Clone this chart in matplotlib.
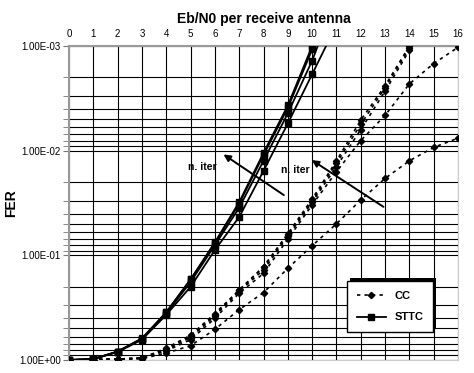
import numpy as np
import matplotlib
matplotlib.use("Agg")
import matplotlib.pyplot as plt
from matplotlib.patches import Rectangle

plt.rcParams["font.family"] = ["Liberation Sans", "DejaVu Sans"]

# Eb/N0 (dB)
snr = np.arange(0, 17)

# STTC, 4 iterations (x = 0..11)
sttc_x = np.arange(0, 12)
sttc = [
    [1.0, 0.98, 0.84, 0.64, 0.37, 0.20, 0.089, 0.043, 0.0156, 0.0055, 0.00186, 0.00063],
    [1.0, 0.98, 0.83, 0.63, 0.36, 0.18, 0.080, 0.035, 0.0125, 0.0044, 0.00138, 0.00034],
    [1.0, 0.98, 0.83, 0.63, 0.35, 0.17, 0.077, 0.032, 0.0110, 0.0039, 0.00108, 0.00028],
    [1.0, 0.98, 0.83, 0.62, 0.35, 0.17, 0.075, 0.031, 0.0105, 0.0037, 0.00100, 0.00026],
]

# CC, 5 iterations
cc_long_x = np.arange(0, 17)
cc_long = [
    [1.0, 0.99, 0.99, 0.97, 0.86, 0.73, 0.51, 0.33, 0.227, 0.133, 0.081, 0.050, 0.0296, 0.0184, 0.0125, 0.0093, 0.0076],
    [1.0, 0.99, 0.98, 0.96, 0.82, 0.64, 0.40, 0.23, 0.149, 0.070, 0.033, 0.0159, 0.0080, 0.0046, 0.0023, 0.00147, 0.00103],
]
cc_short_x = np.arange(0, 15)
cc_short = [
    [1.0, 0.99, 0.98, 0.96, 0.80, 0.61, 0.38, 0.22, 0.138, 0.066, 0.031, 0.0142, 0.0063, 0.0027, 0.0011],
    [1.0, 0.99, 0.98, 0.96, 0.78, 0.59, 0.37, 0.215, 0.130, 0.064, 0.030, 0.0132, 0.0056, 0.0025, 0.00105],
    [1.0, 0.99, 0.98, 0.96, 0.77, 0.58, 0.36, 0.214, 0.128, 0.062, 0.029, 0.0125, 0.0051, 0.0024, 0.0010],
]

ytick_vals = [1e-3, 1e-2, 1e-1, 1.0]
ytick_labels = ["1.00E-03", "1.00E-02", "1.00E-01", "1.00E+00"]

fig = plt.figure(figsize=(4.74, 3.73), dpi=100)
ax = fig.add_axes([0.1456, 0.0349, 0.8207, 0.8418])

ax.set_yscale("log")
ax.set_xlim(0, 16)
ax.set_ylim(1.0, 1e-3)

ax.set_xticks(snr)
ax.xaxis.tick_top()
ax.xaxis.set_label_position("top")
ax.tick_params(axis="x", length=0, labelsize=7, pad=5)
ax.set_yticks(ytick_vals)
ax.set_yticklabels(ytick_labels)
ax.tick_params(axis="y", which="both", length=4, labelsize=7, pad=2, color="#777777")

ax.grid(True, which="major", color="black", lw=0.8)
ax.grid(True, which="minor", axis="y", color="black", lw=0.8)
for s in ["top", "left"]:
    ax.spines[s].set_color("#999999")
    ax.spines[s].set_linewidth(1.5)
for s in ["right", "bottom"]:
    ax.spines[s].set_color("#cccccc")

for k, y in enumerate(sttc):
    ax.plot(sttc_x, y, color="black", lw=1.3, marker="s", ms=4,
            label="STTC" if k == 0 else None, zorder=3)

cc_style = dict(color="black", lw=1.2, ls=(0, (2, 2.5)), marker="D", ms=3.2, zorder=3)
for k, y in enumerate(cc_long):
    ax.plot(cc_long_x, y, label="CC" if k == 0 else None, **cc_style)
for y in cc_short:
    ax.plot(cc_short_x, y, **cc_style)

# iteration arrows
arrow = dict(arrowstyle="-|>", color="black", lw=1.4, mutation_scale=10)
ax.annotate("", xy=(6.26, 0.0105), xytext=(8.93, 0.0275), arrowprops=arrow, zorder=4)
ax.annotate("", xy=(9.89, 0.0119), xytext=(13.03, 0.0356), arrowprops=arrow, zorder=4)
ax.text(5.5, 0.0144, "n. iter", fontsize=7.5, fontweight="bold", ha="center", va="center", zorder=5)
ax.text(9.3, 0.0153, "n. iter", fontsize=7.5, fontweight="bold", ha="center", va="center", zorder=5)

ax.set_xlabel("Eb/N0 per receive antenna", fontsize=10, fontweight="bold", labelpad=4)
ax.set_ylabel("FER", fontsize=10, fontweight="bold")
ax.yaxis.set_label_coords(-0.13, 0.5)

handles, labels = ax.get_legend_handles_labels()
order = [labels.index("CC"), labels.index("STTC")]
leg = ax.legend([handles[i] for i in order], [labels[i] for i in order],
                loc="lower right", bbox_to_anchor=(0.951, 0.07), fancybox=False,
                framealpha=1, edgecolor="black", handlelength=2.6,
                borderpad=0.9, labelspacing=1.0, prop={"weight": "bold", "size": 8})
leg.get_frame().set_linewidth(1.0)
leg.set_zorder(7)

# shadow behind the legend box (offset up and right)
fig.canvas.draw()
bb = leg.get_window_extent().transformed(fig.transFigure.inverted())
dx, dy = 3 / 474, 3 / 373
shadow = Rectangle((bb.x0 + dx, bb.y0 + dy), bb.width, bb.height,
                   transform=fig.transFigure, facecolor="black",
                   edgecolor="none", zorder=6, clip_on=False)
ax.add_artist(shadow)

fig.savefig("out.png", dpi=100)
